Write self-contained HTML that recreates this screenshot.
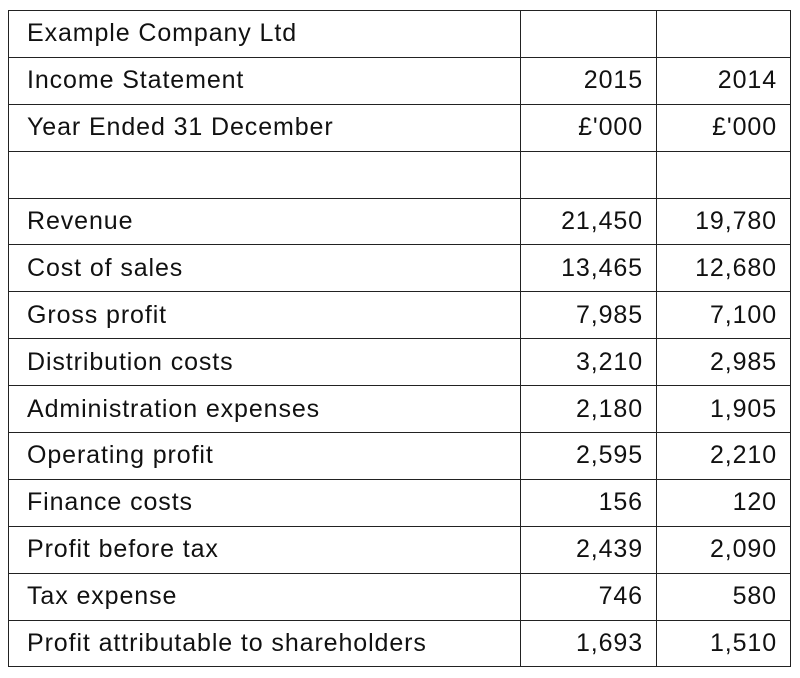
<!DOCTYPE html>
<html><head><meta charset="utf-8"><style>
html,body{margin:0;padding:0;background:#fff;width:800px;height:678px;overflow:hidden}
table{position:absolute;left:8px;top:10px;border-collapse:collapse;font-family:"Liberation Sans",sans-serif;font-size:25px;letter-spacing:0.9px;color:#111}
td{border:1.5px solid #222;height:45.4px;padding:0;box-sizing:border-box;line-height:1}
td.a{width:512px;padding-left:18px}
td.b{width:136px;text-align:right;padding-right:13px}
td.c{width:134px;text-align:right;padding-right:13px}
tr{height:46.9px}
</style></head><body>
<table>
<tr><td class="a">Example Company Ltd</td><td class="b"></td><td class="c"></td></tr>
<tr><td class="a">Income Statement</td><td class="b">2015</td><td class="c">2014</td></tr>
<tr><td class="a">Year Ended 31 December</td><td class="b">£'000</td><td class="c">£'000</td></tr>
<tr><td class="a"></td><td class="b"></td><td class="c"></td></tr>
<tr><td class="a">Revenue</td><td class="b">21,450</td><td class="c">19,780</td></tr>
<tr><td class="a">Cost of sales</td><td class="b">13,465</td><td class="c">12,680</td></tr>
<tr><td class="a">Gross profit</td><td class="b">7,985</td><td class="c">7,100</td></tr>
<tr><td class="a">Distribution costs</td><td class="b">3,210</td><td class="c">2,985</td></tr>
<tr><td class="a">Administration expenses</td><td class="b">2,180</td><td class="c">1,905</td></tr>
<tr><td class="a">Operating profit</td><td class="b">2,595</td><td class="c">2,210</td></tr>
<tr><td class="a">Finance costs</td><td class="b">156</td><td class="c">120</td></tr>
<tr><td class="a">Profit before tax</td><td class="b">2,439</td><td class="c">2,090</td></tr>
<tr><td class="a">Tax expense</td><td class="b">746</td><td class="c">580</td></tr>
<tr><td class="a">Profit attributable to shareholders</td><td class="b">1,693</td><td class="c">1,510</td></tr>
</table>
</body></html>
